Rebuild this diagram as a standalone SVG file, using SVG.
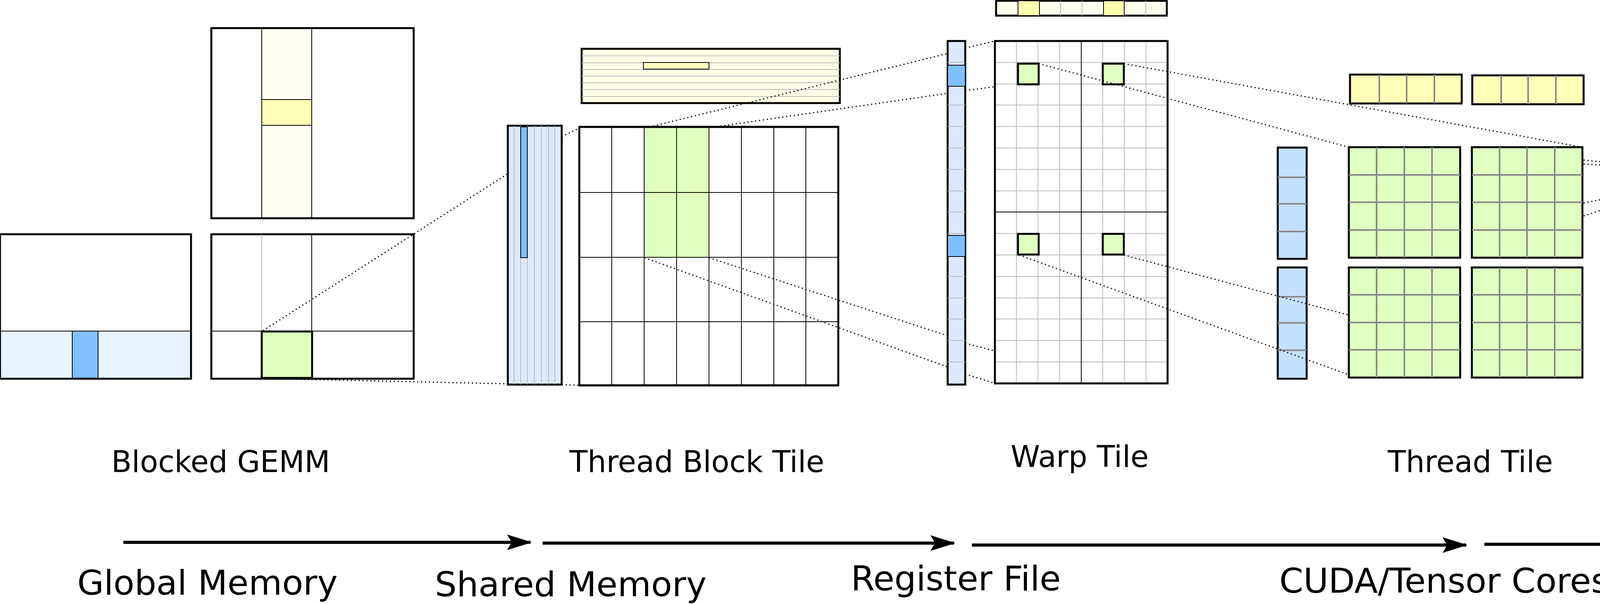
<svg xmlns="http://www.w3.org/2000/svg" width="6638" height="1547" viewBox="0 0 6638 1547">
<style>
.b{stroke:#000;stroke-width:5;}
.t{stroke:#000;stroke-width:2;}
.g{stroke:#bbb;stroke-width:2;fill:none;}
.gg{stroke:#888;stroke-width:4;fill:none;}
.dot{stroke:#000;stroke-width:3;stroke-dasharray:3 7;fill:none;}
.lbl{font-family:"DejaVu Sans",sans-serif;font-size:76px;text-anchor:middle;fill:#000;}
.big{font-family:"DejaVu Sans",sans-serif;font-size:88px;text-anchor:middle;fill:#000;}
.arr{stroke:#000;stroke-width:8;fill:none;}
</style>
<defs>
<marker id="big" viewBox="0 0 64 40" markerWidth="64" markerHeight="40" refX="60" refY="20" orient="auto" markerUnits="userSpaceOnUse"><path d="M0,0 L64,20 L0,40 L12,20 Z" fill="#000"/></marker>
<marker id="gh" viewBox="0 0 40 30" markerWidth="40" markerHeight="30" refX="38" refY="15" orient="auto" markerUnits="userSpaceOnUse"><path d="M0,0 L40,15 L0,30 L8,15 Z" fill="#1a7a1a"/></marker>
<marker id="kh" viewBox="0 0 40 30" markerWidth="40" markerHeight="30" refX="38" refY="15" orient="auto" markerUnits="userSpaceOnUse"><path d="M0,0 L40,15 L0,30 L8,15 Z" fill="#000"/></marker>
</defs>

<g id="blocked-gemm">
<rect x="0" y="848" width="489" height="122" fill="#e8f3ff"/>
<rect x="185" y="848" width="66" height="122" fill="#80bfff" class="t"/>
<rect x="0" y="600" width="489" height="370" fill="none" class="b" stroke-width="4"/>
<line x1="0" y1="848" x2="489" y2="848" class="t"/>
<rect x="670" y="72" width="128" height="487" fill="#fffff2"/>
<rect x="670" y="255" width="128" height="66" fill="#ffffb8" class="t" stroke-width="3"/>
<rect x="541" y="72" width="518" height="487" fill="none" class="b" stroke-width="4"/>
<line x1="670" y1="72" x2="670" y2="559" class="t"/><line x1="798" y1="72" x2="798" y2="559" class="t"/>
<rect x="541" y="600" width="518" height="370" fill="none" class="b" stroke-width="4"/>
<line x1="670" y1="600" x2="670" y2="970" class="g"/><line x1="798" y1="600" x2="798" y2="970" class="t"/>
<line x1="541" y1="848" x2="1059" y2="848" class="t"/>
<rect x="670" y="849" width="129" height="119" fill="#e0ffc0" class="b" stroke-width="4"/>
</g>

<g id="thread-block-tile">
<rect x="1300" y="322" width="138" height="663" fill="#dde9fb" class="b"/>
<path class="g" stroke="#aac" d="M1316,322V985M1333,322V985M1350,322V985M1368,322V985M1386,322V985M1404,322V985M1420,322V985"/>
<rect x="1333" y="325" width="17" height="335" fill="#80bfff" class="t" stroke-width="4"/>
<rect x="1489" y="125" width="661" height="139" fill="#ffffe8" class="b"/>
<path class="g" stroke="#ccc" d="M1489,143H2150M1489,161H2150M1489,178H2150M1489,195H2150M1489,212H2150M1489,229H2150M1489,247H2150"/>
<rect x="1647" y="160" width="168" height="17" fill="#ffffc0" class="t" stroke-width="4"/>
<rect x="1649" y="325" width="166" height="334" fill="#e0ffc0"/>
<rect x="1483" y="325" width="663" height="662" fill="none" class="b"/>
<path class="t" fill="none" d="M1566,325V987M1649,325V987M1732,325V987M1815,325V987M1898,325V987M1981,325V987M2063,325V987M1483,493H2146M1483,659H2146M1483,824H2146"/>
<path class="b" stroke-width="8" d="M1483,325H2146M1483,987H2146"/>
</g>

<g id="warp-tile">
<rect x="2550" y="2" width="437" height="38" fill="#fffff0" class="b" stroke-width="4"/>
<rect x="2606" y="2" width="55" height="38" fill="#ffffb0" class="t"/>
<rect x="2825" y="2" width="53" height="38" fill="#ffffb0" class="t"/>
<path class="g" d="M2715,2V40M2770,2V40M2933,2V40"/>
<rect x="2426" y="105" width="45" height="880" fill="#dde9fb" class="b" stroke-width="4"/>
<path class="g" d="M2426,160H2471M2426,215H2471M2426,269H2471M2426,324H2471M2426,379H2471M2426,434H2471M2426,489H2471M2426,543H2471M2426,598H2471M2426,653H2471M2426,708H2471M2426,763H2471M2426,817H2471M2426,872H2471M2426,927H2471"/>
<rect x="2426" y="167" width="45" height="54" fill="#80bfff" class="t"/>
<rect x="2426" y="603" width="45" height="54" fill="#80bfff" class="t"/>
<rect x="2547" y="105" width="442" height="877" fill="#fff"/>
<path class="g" stroke="#ccc" d="M2602,105V982M2657,105V982M2713,105V982M2823,105V982M2878,105V982M2934,105V982M2547,160H2989M2547,215H2989M2547,269H2989M2547,324H2989M2547,379H2989M2547,434H2989M2547,489H2989M2547,598H2989M2547,653H2989M2547,708H2989M2547,763H2989M2547,817H2989M2547,872H2989M2547,927H2989"/>
<path class="t" fill="none" d="M2768,105V982M2547,543H2989"/>
<rect x="2547" y="105" width="442" height="877" fill="none" class="b" stroke-width="4"/>
<g fill="#e0ffc0" class="b" stroke-width="4">
<rect x="2606" y="163" width="53" height="53"/><rect x="2823" y="163" width="54" height="53"/>
<rect x="2606" y="599" width="53" height="53"/><rect x="2823" y="599" width="54" height="53"/>
</g>
</g>

<g id="thread-tile">
<rect x="3456" y="191" width="286" height="74" fill="#ffffb8" class="b"/>
<path class="gg" d="M3531,191V265M3601,191V265M3672,191V265"/>
<rect x="3769" y="193" width="285" height="74" fill="#ffffb8" class="b"/>
<path class="gg" d="M3843,193V267M3912,193V267M3983,193V267"/>
<rect x="3271" y="378" width="74" height="285" fill="#c4e0ff" class="b"/>
<path class="gg" d="M3271,454H3345M3271,522H3345M3271,593H3345"/>
<rect x="3271" y="685" width="74" height="285" fill="#c4e0ff" class="b"/>
<path class="gg" d="M3271,760H3345M3271,827H3345M3271,897H3345"/>
<g fill="#e0ffc0" class="b">
<rect x="3453" y="377" width="285" height="283"/><rect x="3768" y="377" width="283" height="283"/>
<rect x="3453" y="685" width="285" height="282"/><rect x="3768" y="685" width="283" height="282"/>
</g>
<path class="gg" d="M3524,377V660M3595,377V660M3666,377V660M3453,448H3738M3453,518H3738M3453,589H3738
M3839,377V660M3909,377V660M3980,377V660M3768,448H4051M3768,518H4051M3768,589H4051
M3524,685V967M3595,685V967M3666,685V967M3453,755H3738M3453,826H3738M3453,896H3738
M3839,685V967M3909,685V967M3980,685V967M3768,755H4051M3768,826H4051M3768,896H4051"/>
</g>

<g id="epilogue-tile">
<rect x="4278" y="409" width="183" height="368" fill="#f0ffe8" class="b"/>
<rect x="4320" y="415" width="38" height="358" fill="#e0ffc0" stroke="#1a7a1a" stroke-width="3" stroke-dasharray="8 4"/>
<rect x="4306" y="437" width="28" height="28" fill="#d8ffb8" stroke="#888" stroke-width="1"/>
</g>

<g id="epilogue-functor">
<text x="4690" y="212" font-family="DejaVu Sans, sans-serif" font-size="86">F</text>
<path d="M4771,173 Q4710,573 4771,973" class="t" fill="none" stroke-width="4"/>
<rect x="4791" y="211" width="78" height="734" fill="#e8ffd8"/>
<path class="g" stroke="#a8c8a0" d="M4807,211V945M4823,211V945M4839,211V945M4855,211V945
M4791,234H4869M4791,257H4869M4791,280H4869M4791,303H4869M4791,326H4869M4791,349H4869M4791,372H4869M4791,395H4869M4791,418H4869M4791,441H4869M4791,464H4869M4791,487H4869M4791,510H4869M4791,533H4869M4791,556H4869M4791,579H4869M4791,602H4869M4791,625H4869M4791,648H4869M4791,671H4869M4791,694H4869M4791,717H4869M4791,740H4869M4791,763H4869M4791,786H4869M4791,809H4869M4791,832H4869M4791,855H4869M4791,878H4869M4791,901H4869M4791,924H4869"/>
<rect x="4791" y="211" width="78" height="734" fill="none" class="b" stroke-width="4"/>
<rect x="4972" y="373" width="79" height="425" fill="#c0c0c0" class="b" stroke-width="4"/>
<text x="4908" y="630" font-family="DejaVu Sans, sans-serif" font-size="110" font-weight="bold">,</text>
<text x="5068" y="630" font-family="DejaVu Sans, sans-serif" font-size="110" font-weight="bold">,</text>
<text x="5165" y="612" font-family="DejaVu Sans, sans-serif" font-size="100" font-weight="bold">...</text>
<path d="M5295,173 Q5352,573 5295,973" class="t" fill="none" stroke-width="4"/>
</g>

<g id="modify">
<rect x="5537" y="759" width="157" height="204" fill="#e8f3ff"/>
<path class="b" fill="none" d="M5537,350H5694V963H5537"/>
<line x1="5537" y1="759" x2="5694" y2="759" stroke="#999" stroke-width="2"/>
<rect x="5991" y="107" width="211" height="174" fill="#fffff2"/>
<path class="b" fill="none" d="M5777,107V281H6636"/>
<path class="t" fill="none" d="M5991,107V281M6202,107V281"/>
<rect x="5777" y="350" width="856" height="612" fill="none" class="b"/>
<path class="t" fill="none" d="M5991,350V962M6205,350V962M5777,759H6633"/>
<rect x="5994" y="760" width="211" height="199" fill="#f0ffe0" class="b" stroke-width="6"/>
<rect x="6012" y="763" width="19" height="97" fill="#c0f000" stroke="#555" stroke-width="2"/>
</g>

<g id="connectors">
<path class="dot" d="M673,847L1300,445M748,971L1300,983M1438,350L1489,325M1438,985L1483,987
M1672,323L2426,137M1844,323L2426,239M1650,660L2426,940M1815,660L2426,860
M2471,123L2547,105M2471,232L2547,222M2471,879L2547,899M2471,958L2547,982
M2659,163L3453,377M2877,163L4051,377M2609,653L3453,960M2877,653L3453,807
M4054,410L4320,437M4054,420L4320,437M4054,520L4320,467M4054,553L4320,467"/>
<path d="M4365,563 Q4560,530 4782,572" fill="none" stroke="#1a7a1a" stroke-width="7" stroke-dasharray="16 8" marker-end="url(#gh)"/>
<path d="M5363,559 Q5830,580 6005,747" fill="none" stroke="#000" stroke-width="5" stroke-dasharray="16 10" marker-end="url(#kh)"/>
<line x1="316" y1="1389" x2="1358" y2="1389" class="arr" marker-end="url(#big)"/>
<line x1="1389" y1="1391" x2="2442" y2="1391" class="arr" marker-end="url(#big)"/>
<line x1="2488" y1="1396" x2="3753" y2="1396" class="arr" marker-end="url(#big)"/>
<line x1="3800" y1="1394" x2="4350" y2="1394" class="arr" marker-end="url(#big)"/>
<line x1="4390" y1="1394" x2="5014" y2="1394" class="arr" marker-end="url(#big)"/>
<line x1="5080" y1="1394" x2="6078" y2="1394" class="arr" marker-end="url(#big)"/>
</g>

<g id="labels">
<text class="lbl" x="565" y="1209">Blocked GEMM</text>
<text class="lbl" x="1784" y="1209">Thread Block Tile</text>
<text class="lbl" x="2764" y="1196">Warp Tile</text>
<text class="lbl" x="3764" y="1209">Thread Tile</text>
<text class="lbl" x="4392" y="1194">Epilogue</text>
<text class="lbl" x="4392" y="1280">Tile</text>
<text class="lbl" x="5003" y="1207">Epilogue</text>
<text class="lbl" x="5003" y="1293">Functor</text>
<text class="lbl" x="6089" y="1208">Modify</text>
<text class="big" x="531" y="1523">Global Memory</text>
<text class="big" x="1461" y="1527">Shared Memory</text>
<text class="big" x="2447" y="1512">Register File</text>
<text class="big" x="3697" y="1518">CUDA/Tensor Cores</text>
<text class="big" x="4403" y="1518">SMEM</text>
<text class="big" x="5046" y="1518">CUDA Cores</text>
<text class="big" x="6089" y="1515">Global Memory</text>
</g>
</svg>
